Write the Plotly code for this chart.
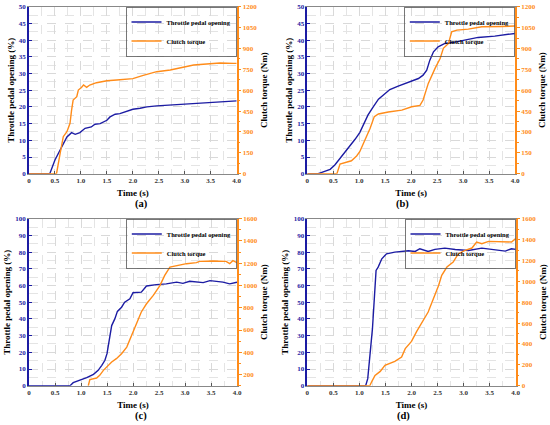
import plotly.graph_objects as go

# panel (a)
a_thr_t = [0, 0.40, 0.5, 0.6, 0.73, 0.82, 0.89, 0.98, 1.08, 1.2, 1.27, 1.37, 1.5, 1.56, 1.66, 1.75, 1.88, 2.0, 2.14, 2.27, 2.46, 2.65, 2.9, 3.3, 3.6, 4.0]
a_thr = [0, 0, 4.1, 7, 11, 12.3, 11.8, 12.3, 13.6, 14, 14.8, 15, 16, 17, 17.8, 18, 18.8, 19.3, 19.6, 20, 20.3, 20.5, 20.8, 21, 21.4, 21.8]
a_clu_t = [0, 0.53, 0.6, 0.66, 0.73, 0.79, 0.82, 0.85, 0.92, 0.95, 1.01, 1.05, 1.11, 1.17, 1.3, 1.5, 1.69, 1.88, 2.0, 2.2, 2.46, 2.72, 2.97, 3.17, 3.42, 3.68, 3.94, 4.0]
a_clu = [0, 0, 146, 266, 302, 362, 457, 529, 553, 601, 620, 637, 620, 637, 654, 668, 673, 678, 683, 706, 733, 745, 764, 781, 788, 795, 793, 793]

# panel (b)
b_thr_t = [0, 0.21, 0.28, 0.44, 0.53, 0.63, 0.73, 0.82, 0.92, 1.01, 1.08, 1.17, 1.27, 1.37, 1.5, 1.59, 1.75, 1.95, 2.14, 2.23, 2.3, 2.36, 2.43, 2.52, 2.65, 2.84, 3.04, 3.29, 3.61, 3.87, 4.0]
b_thr = [0, 0, 0.4, 1.3, 2.6, 4.6, 6.6, 8.1, 10.3, 12.3, 14.6, 17.6, 20, 22.3, 24, 25.2, 26.2, 27.5, 28.5, 29.5, 31, 34, 36.5, 38, 39, 39.4, 40, 40.8, 41.2, 41.7, 42]
b_clu_t = [0, 0.57, 0.63, 0.73, 0.85, 0.95, 1.01, 1.11, 1.21, 1.29, 1.37, 1.56, 1.82, 2.01, 2.17, 2.23, 2.33, 2.46, 2.56, 2.62, 2.72, 2.78, 2.88, 3.1, 3.36, 3.74, 4.0]
b_clu = [0, 0, 69, 79, 93, 127, 158, 242, 326, 410, 429, 443, 457, 481, 491, 529, 649, 757, 829, 901, 936, 1020, 1032, 1039, 1056, 1058, 1061]

# panel (c)
c_thr_t = [0, 0.79, 0.85, 0.98, 1.11, 1.24, 1.33, 1.4, 1.46, 1.5, 1.56, 1.59, 1.65, 1.7, 1.78, 1.84, 1.94, 2.0, 2.16, 2.26, 2.45, 2.64, 2.84, 2.96, 3.09, 3.35, 3.48, 3.73, 3.86, 4.0]
c_thr = [0, 0, 1.8, 3.2, 4.8, 6.8, 9.2, 12.2, 15.2, 19.2, 30, 36, 40, 44.5, 47, 50, 52, 55.7, 56, 59.7, 60.5, 61, 62, 61.3, 62.5, 61.7, 62.9, 62, 61, 62]
c_clu_t = [1.14, 1.17, 1.3, 1.36, 1.43, 1.49, 1.59, 1.68, 1.78, 1.88, 1.97, 2.07, 2.16, 2.26, 2.39, 2.52, 2.61, 2.71, 2.84, 3.03, 3.22, 3.28, 3.54, 3.79, 3.86, 3.92, 4.0]
c_clu = [100, 154, 169, 193, 238, 268, 313, 343, 387, 447, 552, 672, 762, 836, 911, 1001, 1091, 1166, 1181, 1196, 1205, 1217, 1220, 1217, 1196, 1223, 1205]

# panel (d)
d_thr_t = [0, 1.12, 1.16, 1.2, 1.25, 1.29, 1.32, 1.36, 1.43, 1.52, 1.68, 1.94, 2.07, 2.16, 2.32, 2.45, 2.64, 2.84, 3.09, 3.35, 3.6, 3.8, 3.92, 4.0]
d_thr = [0, 0, 4.2, 16, 34, 54, 69, 71, 76, 79, 80, 80.8, 80.4, 82, 80.4, 81.6, 82.4, 81.6, 81, 82.4, 81.6, 80.6, 82, 81.6]
d_clu_t = [0, 1.2, 1.24, 1.3, 1.4, 1.49, 1.68, 1.81, 1.88, 2.0, 2.1, 2.2, 2.32, 2.42, 2.52, 2.58, 2.68, 2.8, 2.9, 3.03, 3.16, 3.25, 3.35, 3.48, 3.73, 3.92, 4.0]
d_clu = [0, 0, 42, 99, 137, 195, 233, 275, 355, 425, 521, 610, 706, 834, 961, 1057, 1137, 1185, 1265, 1297, 1319, 1377, 1361, 1383, 1383, 1377, 1409]

x_ticks = [0, 0.5, 1.0, 1.5, 2.0, 2.5, 3.0, 3.5, 4.0]
x_labels = ["0", "0.5", "1.0", "1.5", "2.0", "2.5", "3.0", "3.5", "4.0"]

BLUE = "#1c1ca3"
ORANGE = "#ff8c1a"
FONT = "Liberation Serif"
W, H = 550, 425


def xdom(s0, s1):
    return [s0 / W, s1 / W]


def ydom(top, bottom):
    return [1 - bottom / H, 1 - top / H]


fig = go.Figure()

panels = [
    ("a", a_thr_t, a_thr, a_clu_t, a_clu, [0, 50], 5, [0, 1200], 150, xdom(29, 236.7), ydom(6.7, 173.7)),
    ("b", b_thr_t, b_thr, b_clu_t, b_clu, [0, 50], 5, [0, 1200], 150, xdom(307.3, 515), ydom(6.7, 173.7)),
    ("c", c_thr_t, c_thr, c_clu_t, c_clu, [0, 100], 10, [100, 1600], 200, xdom(29, 237), ydom(218.7, 385.7)),
    ("d", d_thr_t, d_thr, d_clu_t, d_clu, [0, 100], 10, [0, 1600], 200, xdom(307.3, 515.7), ydom(218.7, 385.7)),
]

tickfont = dict(family=FONT, size=7, weight="bold")
titlefont = dict(family=FONT, size=9, weight="bold", color="black")

for i, (lab, tt, thr, ct, clu, yr, ydt, cr, cdt, xd, yd) in enumerate(panels):
    n = i + 1
    xa = "x" if n == 1 else f"x{n}"
    ya = f"y{2 * n - 1}" if n > 1 else "y"
    yb = f"y{2 * n}"
    leg = "legend" if n == 1 else f"legend{n}"

    fig.add_trace(go.Scatter(x=tt, y=thr, mode="lines", name="Throttle pedal opening",
                             line=dict(color=BLUE, width=1.4), xaxis=xa, yaxis=ya, legend=leg))
    fig.add_trace(go.Scatter(x=ct, y=clu, mode="lines", name="Clutch torque",
                             line=dict(color=ORANGE, width=1.4), xaxis=xa, yaxis=yb, legend=leg))

    xkey = "xaxis" if n == 1 else f"xaxis{n}"
    yakey = "yaxis" if n == 1 else f"yaxis{2 * n - 1}"
    ybkey = f"yaxis{2 * n}"

    fig.layout[xkey] = dict(
        domain=xd, anchor=ya, range=[0, 4], tickvals=x_ticks, ticktext=x_labels,
        tickfont=dict(tickfont, color="#333333"), showline=True, mirror=True,
        linecolor="#888888", linewidth=1, ticks="inside", ticklen=3, tickcolor="#555555",
        showgrid=True, gridcolor="#d9d9d9", griddash="dash", gridwidth=0.6,
        minor=dict(dtick=0.25, tick0=0, showgrid=True, gridcolor="#e4e4e4", griddash="dash", gridwidth=0.6),
        zeroline=False, automargin=False,
        title=dict(text="Time (s)", font=titlefont, standoff=5),
    )
    fig.layout[yakey] = dict(
        domain=yd, anchor=xa, range=yr, dtick=ydt, tick0=0,
        tickfont=dict(tickfont, color=BLUE), showline=True, linecolor=BLUE, linewidth=1.5,
        ticks="inside", ticklen=3, tickcolor=BLUE,
        showgrid=True, gridcolor="#d9d9d9", griddash="dash", gridwidth=0.6,
        minor=dict(dtick=ydt / 2, showgrid=True, gridcolor="#e4e4e4", griddash="dash", gridwidth=0.6),
        zeroline=False, automargin=False,
        title=dict(text="Throttle pedal opening (%)", font=titlefont, standoff=3),
    )
    fig.layout[ybkey] = dict(
        overlaying=ya, anchor=xa, side="right", range=cr, dtick=cdt, tick0=0,
        tickfont=dict(tickfont, color=ORANGE), showline=True, linecolor=ORANGE, linewidth=1.5,
        ticks="outside", ticklen=3, tickcolor=ORANGE,
        minor=dict(dtick=cdt / 2, ticks="outside", ticklen=2, tickcolor=ORANGE),
        showgrid=False, zeroline=False, automargin=False,
        title=dict(text="Clutch torque (Nm)", font=titlefont, standoff=4),
    )
    fig.layout[leg] = dict(
        x=xd[1], xanchor="right", y=yd[1], yanchor="top",
        bgcolor="rgba(255,255,255,0)", bordercolor="#555555", borderwidth=0.8,
        font=dict(family=FONT, size=6.5, weight="bold", color="black"),
        tracegroupgap=0, itemwidth=30,
    )
    fig.add_annotation(text=f"({lab})", x=(xd[0] + xd[1]) / 2, y=yd[0] - 30.5 / H,
                       xref="paper", yref="paper", yanchor="middle", showarrow=False,
                       font=dict(family=FONT, size=10.5, weight="bold", color="black"))

fig.update_layout(
    width=W, height=H,
    margin=dict(l=0, r=0, t=0, b=0),
    plot_bgcolor="white", paper_bgcolor="white",
    showlegend=True,
)

# drop the default page margin so the figure sits at the window corner
fig.write_html("out.html", config={"displayModeBar": False},
               post_script="document.body.style.margin='0';")
